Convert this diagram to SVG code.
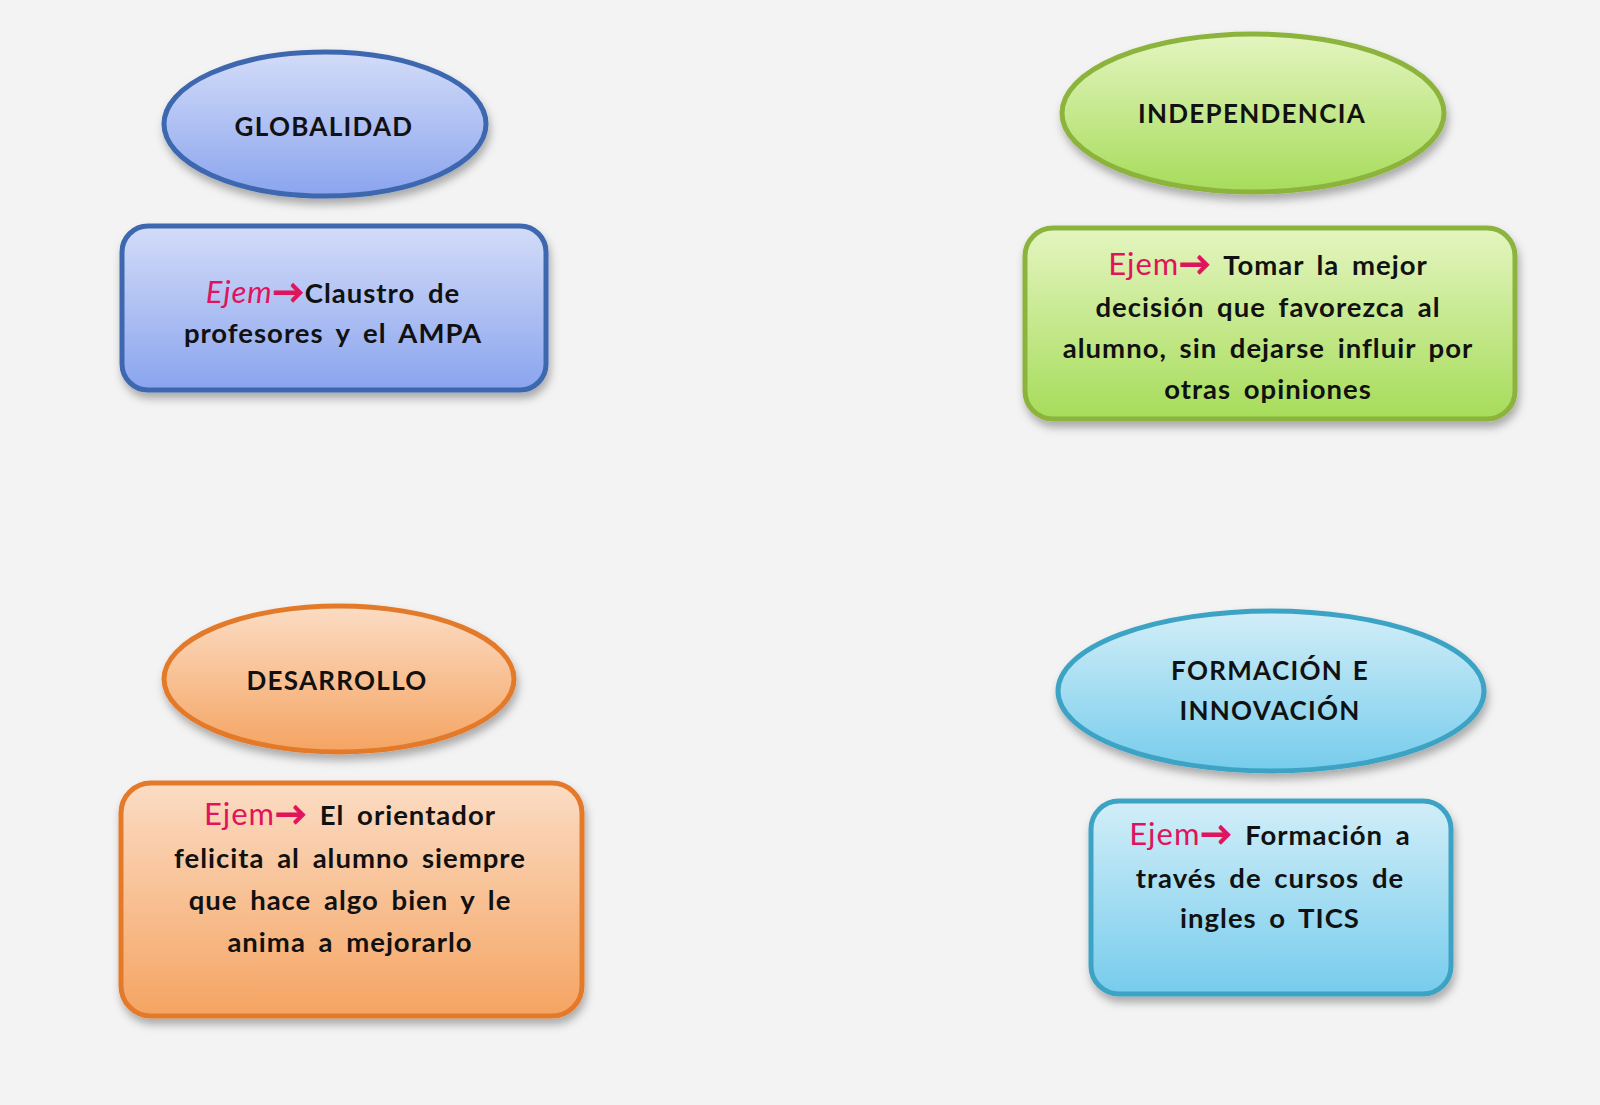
<svg xmlns="http://www.w3.org/2000/svg" width="1600" height="1105" viewBox="0 0 1600 1105">
<defs>
<linearGradient id="gBlue" x1="0" y1="0" x2="0" y2="1"><stop offset="0" stop-color="#d3dcf8"/><stop offset="1" stop-color="#8aa4ee"/></linearGradient>
<linearGradient id="gGreen" x1="0" y1="0" x2="0" y2="1"><stop offset="0" stop-color="#e4f5c0"/><stop offset="1" stop-color="#a6dc5a"/></linearGradient>
<linearGradient id="gOrange" x1="0" y1="0" x2="0" y2="1"><stop offset="0" stop-color="#fbdcc4"/><stop offset="1" stop-color="#f5a462"/></linearGradient>
<linearGradient id="gCyan" x1="0" y1="0" x2="0" y2="1"><stop offset="0" stop-color="#d2eef8"/><stop offset="1" stop-color="#76ccec"/></linearGradient>
<filter id="sh" x="-10%" y="-10%" width="120%" height="130%"><feDropShadow dx="2" dy="6" stdDeviation="4" flood-color="#000" flood-opacity="0.3"/></filter>
</defs>
<style>
.t{font-family:Lato,"Open Sans","Liberation Sans",sans-serif;font-weight:bold;font-size:27.5px;fill:#111;text-anchor:middle;letter-spacing:1px;word-spacing:5px}
.h{font-size:26px;letter-spacing:1.3px;word-spacing:2px}
.e{fill:#e0145c;font-weight:normal;font-size:31px}
.a{fill:#e0145c;stroke:#e0145c;stroke-width:1.2px;font-size:31px}
.i{font-style:italic}
.blue{fill:url(#gBlue);stroke:#3e68b0;stroke-width:5}
.green{fill:url(#gGreen);stroke:#8cb43e;stroke-width:5}
.orange{fill:url(#gOrange);stroke:#e37a2c;stroke-width:5}
.cyan{fill:url(#gCyan);stroke:#3ea3c4;stroke-width:5}
</style>
<rect width="1600" height="1105" fill="#f4f3f3"/>
<g id="globalidad">
<ellipse class="blue" cx="325" cy="124" rx="161" ry="72" filter="url(#sh)"/>
<text class="t h" x="324" y="136">GLOBALIDAD</text>
</g>
<g id="globalidad-ejem">
<rect class="blue" x="122" y="226" width="424" height="164" rx="26" filter="url(#sh)"/>
<text class="t" x="333" y="303"><tspan class="e i">Ejem</tspan><tspan class="a">→</tspan>Claustro de</text>
<text class="t" x="333" y="343">profesores y el AMPA</text>
</g>
<g id="independencia">
<ellipse class="green" cx="1253" cy="113" rx="191" ry="79" filter="url(#sh)"/>
<text class="t h" x="1252" y="123">INDEPENDENCIA</text>
</g>
<g id="independencia-ejem">
<rect class="green" x="1025" y="228" width="490" height="191" rx="28" filter="url(#sh)"/>
<text class="t" x="1268" y="275"><tspan class="e">Ejem</tspan><tspan class="a">→</tspan> Tomar la mejor</text>
<text class="t" x="1268" y="317">decisión que favorezca al</text>
<text class="t" x="1268" y="358">alumno, sin dejarse influir por</text>
<text class="t" x="1268" y="399">otras opiniones</text>
</g>
<g id="desarrollo">
<ellipse class="orange" cx="339" cy="679" rx="175" ry="73" filter="url(#sh)"/>
<text class="t h" x="337" y="690">DESARROLLO</text>
</g>
<g id="desarrollo-ejem">
<rect class="orange" x="121" y="783" width="461" height="233" rx="30" filter="url(#sh)"/>
<text class="t" x="350" y="825"><tspan class="e">Ejem</tspan><tspan class="a">→</tspan> El orientador</text>
<text class="t" x="350" y="868">felicita al alumno siempre</text>
<text class="t" x="350" y="910">que hace algo bien y le</text>
<text class="t" x="350" y="952">anima a mejorarlo</text>
</g>
<g id="formacion">
<ellipse class="cyan" cx="1271" cy="691" rx="213" ry="80" filter="url(#sh)"/>
<text class="t h" x="1270" y="680">FORMACIÓN E</text>
<text class="t h" x="1270" y="720">INNOVACIÓN</text>
</g>
<g id="formacion-ejem">
<rect class="cyan" x="1091" y="801" width="360" height="193" rx="28" filter="url(#sh)"/>
<text class="t" x="1270" y="845"><tspan class="e">Ejem</tspan><tspan class="a">→</tspan> Formación a</text>
<text class="t" x="1270" y="888">través de cursos de</text>
<text class="t" x="1270" y="928">ingles o TICS</text>
</g>
<g id="connectors"/>
</svg>
